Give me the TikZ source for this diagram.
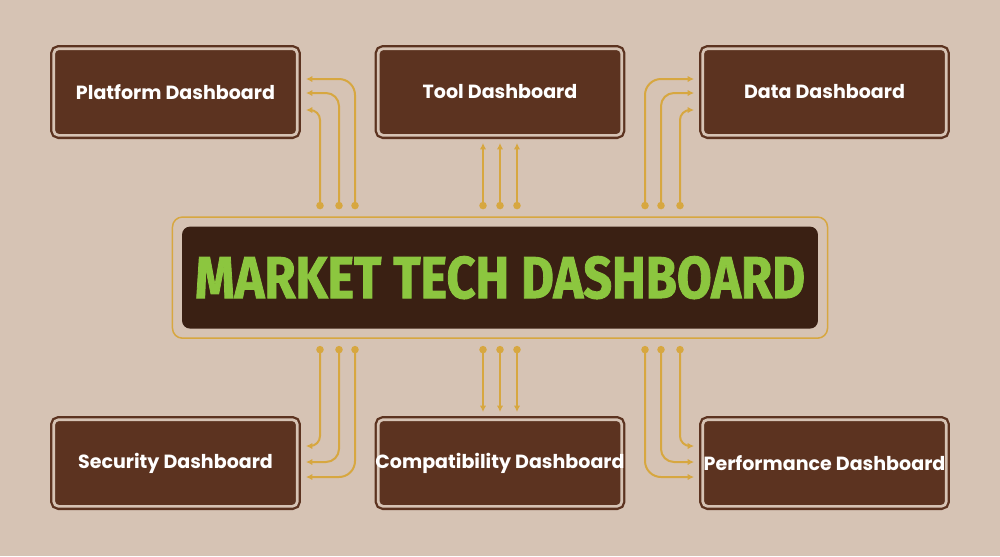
\documentclass[tikz,border=0pt]{standalone}
\usepackage{fontspec}
\setmainfont{Poppins}
\newfontfamily\titlefont[BoldFeatures={FakeBold=1.6}]{Fira Sans}
\usetikzlibrary{arrows.meta,fit,calc}

\definecolor{bg}{HTML}{D6C3B4}
\definecolor{boxbrown}{HTML}{5C3320}
\definecolor{darkbrown}{HTML}{3A2013}
\definecolor{gold}{HTML}{D7A740}
\definecolor{leaf}{HTML}{8CC63F}

\tikzset{
  dashbox/.style={rectangle, rounded corners=0.1cm, fill=boxbrown, draw=boxbrown,
    line width=0.046cm, double=bg, double distance=0.054cm,
    minimum width=4.874cm, minimum height=1.734cm, inner xsep=-0.3cm, inner ysep=0pt,
    text=white, font=\bfseries\fontsize{10.85}{13}\selectfont},
  link/.style={draw=gold, line width=0.04cm,
    arrows={Circle[length=4.2pt]-Latex[length=3.6pt,width=3.6pt]}},
}

\begin{document}
\begin{tikzpicture}[x=0.02cm, y=-0.02cm]
\fill [bg] (0,0) rectangle (1000,556);
\useasboundingbox (0,0) rectangle (1000,556);

\node (M) at (500,277.6) [rectangle, rounded corners=0.16cm, fill=darkbrown,
  minimum width=12.72cm, minimum height=2.04cm, inner sep=0pt, text=leaf]
  {\resizebox{12.2cm}{0.84cm}{\titlefont\bfseries MARKET TECH DASHBOARD}};
\node (MF) [fit=(M), inner sep=0.185cm, draw=gold, line width=0.03cm, rounded corners=0.2cm] {};

\node (P) at (175.5,92) [dashbox] {Platform Dashboard};
\node (T) at (500,92) [dashbox] {Tool Dashboard};
\node (D) at (824.5,92) [dashbox] {Data Dashboard};
\node (S) at (175.5,463) [dashbox] {Security Dashboard};
\node (C) at (500,463) [dashbox] {Compatibility Dashboard};
\node (F) at (824.5,463) [dashbox] {Performance Dashboard};

% top row
\draw [link, rounded corners=0.2cm] ($(MF.north)+(-180,-7)$) |- ([shift={(7.5,18)}]P.east);
\draw [link, rounded corners=0.26cm] ($(MF.north)+(-161,-7)$) |- ([shift={(7.5,1)}]P.east);
\draw [link, rounded corners=0.32cm] ($(MF.north)+(-145,-7)$) |- ([shift={(7.5,-13)}]P.east);
\draw [link] ($(MF.north)+(-17,-7)$) -- ([shift={(-17,6.5)}]T.south);
\draw [link] ($(MF.north)+(0,-7)$) -- ([shift={(0,6.5)}]T.south);
\draw [link] ($(MF.north)+(17,-7)$) -- ([shift={(17,6.5)}]T.south);
\draw [link, rounded corners=0.32cm] ($(MF.north)+(145,-7)$) |- ([shift={(-7.5,-13)}]D.west);
\draw [link, rounded corners=0.26cm] ($(MF.north)+(161,-7)$) |- ([shift={(-7.5,1)}]D.west);
\draw [link, rounded corners=0.2cm] ($(MF.north)+(180,-7)$) |- ([shift={(-7.5,18)}]D.west);

% bottom row
\draw [link, rounded corners=0.2cm] ($(MF.south)+(-180,7)$) |- ([shift={(7.5,-17)}]S.east);
\draw [link, rounded corners=0.26cm] ($(MF.south)+(-161,7)$) |- ([shift={(7.5,-1)}]S.east);
\draw [link, rounded corners=0.32cm] ($(MF.south)+(-145,7)$) |- ([shift={(7.5,14)}]S.east);
\draw [link] ($(MF.south)+(-17,7)$) -- ([shift={(-17,-6.5)}]C.north);
\draw [link] ($(MF.south)+(0,7)$) -- ([shift={(0,-6.5)}]C.north);
\draw [link] ($(MF.south)+(17,7)$) -- ([shift={(17,-6.5)}]C.north);
\draw [link, rounded corners=0.32cm] ($(MF.south)+(145,7)$) |- ([shift={(-7.5,14)}]F.west);
\draw [link, rounded corners=0.26cm] ($(MF.south)+(161,7)$) |- ([shift={(-7.5,-1)}]F.west);
\draw [link, rounded corners=0.2cm] ($(MF.south)+(180,7)$) |- ([shift={(-7.5,-17)}]F.west);

\end{tikzpicture}
\end{document}
